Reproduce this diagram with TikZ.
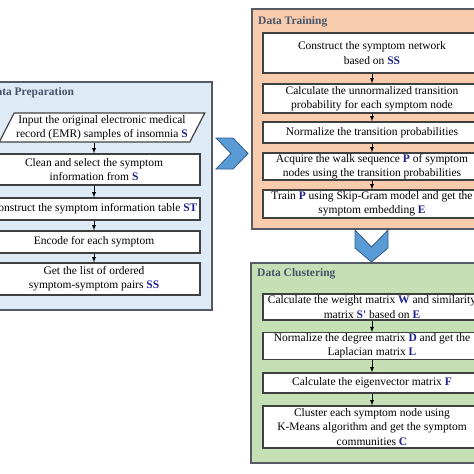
\documentclass[tikz,border=0pt]{standalone}
\usepackage{fontspec}
\setmainfont{Liberation Serif}
\usetikzlibrary{shapes.geometric}

\definecolor{azulpanel}{RGB}{222,235,247}
\definecolor{naranjapanel}{RGB}{248,203,173}
\definecolor{verdepanel}{RGB}{197,224,180}
\definecolor{bordepanel}{RGB}{85,90,100}
\definecolor{bordecaja}{RGB}{64,64,64}
\definecolor{titulo}{RGB}{68,84,106}
\definecolor{clave}{RGB}{31,31,140}
\definecolor{chevron}{RGB}{91,155,213}
\definecolor{chevronborde}{RGB}{50,90,140}

\newcommand{\resalta}[1]{\textcolor{clave}{\textbf{#1}}}

\begin{document}
\begin{tikzpicture}[x=1pt, y=-1pt,
  every node/.style={font=\fontsize{11.5}{14.2}\selectfont, align=center},
  caja/.style={draw=bordecaja, fill=white, line width=1.2pt, inner sep=1pt},
  titulo/.style={anchor=west, inner sep=0pt, font=\fontsize{11.5}{14}\selectfont\bfseries, text=titulo},
  flecha/.style={-latex, thick}]
  \clip (0,0) rectangle (474,474);

  % Paneles
  \filldraw[fill=azulpanel, draw=bordepanel, line width=1.1pt] (-17,82) rectangle (212,310);
  \filldraw[fill=naranjapanel, draw=bordepanel, line width=1.1pt] (252,9) rectangle (495,229);
  \filldraw[fill=verdepanel, draw=bordepanel, line width=1.1pt] (251,263) rectangle (495,463);

  % Flechas grandes
  \filldraw[fill=chevron, draw=chevronborde, line width=0.8pt] (216,138) -- (233,138) -- (248,153.5) -- (233,169) -- (216,169) -- (231,153.5) -- cycle;
  \filldraw[fill=chevron, draw=chevronborde, line width=0.8pt] (355,230) -- (371.5,247) -- (388,230) -- (388,248) -- (371.5,262) -- (355,248) -- cycle;

  % Nodos
  \node[titulo] (tp) at (-12,93) {Data Preparation};
  \node[caja, trapezium, trapezium left angle=61, trapezium right angle=119, trapezium stretches=true, minimum width=206, minimum height=29] (p1) at (102,127.5) {Input the original electronic medical\\record (EMR) samples of insomnia \resalta{S}};
  \node[caja, minimum width=212, minimum height=31] (p2) at (94,169.5) {Clean and select the symptom\\information from \resalta{S}};
  \node[caja, minimum width=212, minimum height=22] (p3) at (94,209) {Construct the symptom information table \resalta{ST}};
  \node[caja, minimum width=212, minimum height=22] (p4) at (94,242) {Encode for each symptom};
  \node[caja, minimum width=212, minimum height=32] (p5) at (94,279) {Get the list of ordered\\symptom-symptom pairs \resalta{SS}};

  \node[titulo] (tt) at (258,22) {Data Training};
  \node[caja, minimum width=218, minimum height=40] (t1) at (372,53) {Construct the symptom network\\based on \resalta{SS}};
  \node[caja, minimum width=218, minimum height=29] (t2) at (372,98.5) {Calculate the unnormalized transition\\probability for each symptom node};
  \node[caja, minimum width=218, minimum height=21] (t3) at (372,132.5) {Normalize the transition probabilities};
  \node[caja, minimum width=218, minimum height=27] (t4) at (372,166.5) {Acquire the walk sequence \resalta{P} of symptom\\nodes using the transition probabilities};
  \node[caja, minimum width=218, minimum height=28] (t5) at (372,204) {Train \resalta{P} using Skip-Gram model and get the\\symptom embedding \resalta{E}};

  \node[titulo] (tc) at (257,274) {Data Clustering};
  \node[caja, minimum width=218, minimum height=26] (c1) at (372,307) {Calculate the weight matrix \resalta{W} and similarity\\matrix \resalta{S\textquotesingle} based on \resalta{E}};
  \node[caja, minimum width=218, minimum height=26] (c2) at (372,346) {Normalize the degree matrix \resalta{D} and get the\\Laplacian matrix \resalta{L}};
  \node[caja, minimum width=218, minimum height=20] (c3) at (372,383) {Calculate the eigenvector matrix \resalta{F}};
  \node[caja, minimum width=218, minimum height=42] (c4) at (372,427) {Cluster each symptom node using\\K-Means algorithm and get the symptom\\communities \resalta{C}};

  % Aristas
  \draw[flecha] (p1.south -| p2.north) -- (p2.north);
  \draw[flecha] (p2) -- (p3);
  \draw[flecha] (p3) -- (p4);
  \draw[flecha] (p4) -- (p5);
  \draw[flecha] (t1) -- (t2);
  \draw[flecha] (t2) -- (t3);
  \draw[flecha] (t3) -- (t4);
  \draw[flecha] (t4) -- (t5);
  \draw[flecha] (c1) -- (c2);
  \draw[flecha] (c2) -- (c3);
  \draw[flecha] (c3) -- (c4);
\end{tikzpicture}
\end{document}
